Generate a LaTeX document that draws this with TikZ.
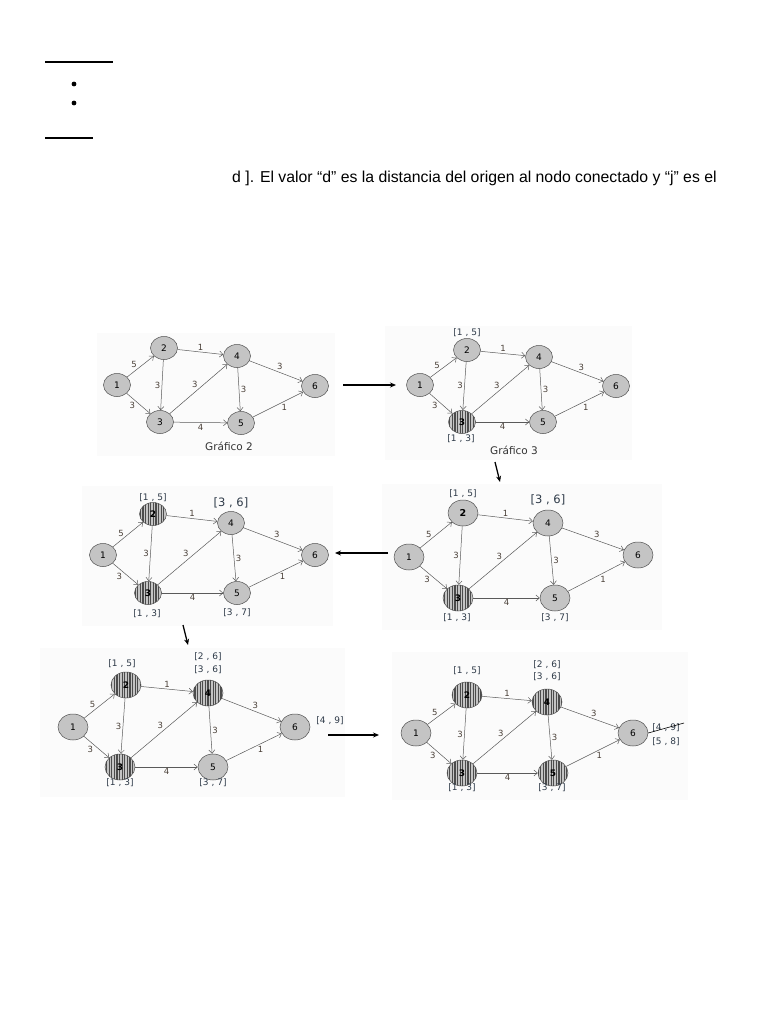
\documentclass[tikz,border=0pt]{standalone}
\usepackage{fontspec}
\setmainfont{Liberation Sans}
\newfontfamily\grafofont{DejaVu Sans}
\usetikzlibrary{arrows.meta,positioning,shapes.geometric,patterns.meta}
\definecolor{nodoFill}{HTML}{C4C4C4}
\definecolor{nodoLine}{HTML}{4E4E4E}
\definecolor{aristaGris}{HTML}{5A5A5A}
\definecolor{pesoTxt}{HTML}{4A4038}
\definecolor{etqTxt}{HTML}{2E3A48}
\definecolor{panelBg}{HTML}{FBFBFB}

% las ocho aristas del grafo, con su peso
\newcommand{\aristas}[1]{%
  \draw[arista] (#1-1) -- node[peso, pos=0.35, above left=0pt and -2pt]{5} (#1-2);
  \draw[arista] (#1-1) -- node[peso, pos=0.4, below left=-1pt]{3} (#1-3);
  \draw[arista] (#1-2) -- node[peso, left]{3} (#1-3);
  \draw[arista] (#1-2) -- node[peso, above]{1} (#1-4);
  \draw[arista] (#1-3) -- node[peso, pos=0.5, above left=-1pt]{3} (#1-4);
  \draw[arista] (#1-4) -- node[peso, right]{3} (#1-5);
  \draw[arista] (#1-4) -- node[peso, pos=0.5, above right=-1pt]{3} (#1-6);
  \draw[arista] (#1-3) -- node[peso, below]{4} (#1-5);
  \draw[arista] (#1-5) -- node[peso, pos=0.55, below right=-1pt]{1} (#1-6);
}

\begin{document}
\begin{tikzpicture}[x=1pt, y=-1pt,
    nodo/.style={ellipse, draw=nodoLine, fill=nodoFill, line width=0.5pt,
                 minimum width=27pt, minimum height=23pt, inner sep=0pt,
                 font=\grafofont\fontsize{9}{10}\selectfont},
    visto/.style={nodo, preaction={fill=nodoFill},
                  pattern={Lines[angle=90, distance=2.6pt, line width=1.1pt]},
                  pattern color=black!70,
                  font=\grafofont\bfseries\fontsize{9}{10}\selectfont},
    grande/.style={minimum width=30pt, minimum height=26pt},
    arista/.style={draw=aristaGris, line width=0.5pt,
                   -{Straight Barb[length=3.5pt, width=6pt]}},
    peso/.style={font=\grafofont\fontsize{8.5}{9}\selectfont, text=pesoTxt, inner sep=1.5pt},
    etq/.style={font=\grafofont\fontsize{9}{10}\selectfont, text=etqTxt, inner sep=0pt},
    etqg/.style={etq, font=\grafofont\fontsize{11.5}{12}\selectfont},
    titulo/.style={font=\grafofont\fontsize{10.5}{12}\selectfont, text=black!80},
    paso/.style={-{Stealth[length=6pt, width=5pt]}, line width=1.3pt, black},
    panel/.style={fill=panelBg, draw=none}]

  \useasboundingbox[fill=white] (0,0) rectangle (768,1024);

  % encabezado
  \draw[line width=1.4pt] (45,62) -- (113,62);
  \fill (74,84) circle (2.4);
  \fill (74,103) circle (2.4);
  \draw[line width=1.2pt] (45,138) -- (93,138);
  \node[anchor=west, inner sep=0pt, font=\fontsize{15.8}{18}\selectfont] (texto) at (232,178)
    {d ]. El valor “d” es la distancia del origen al nodo conectado y “j” es el};

  % fondos
  \fill[panel] (97,333) rectangle (335,456);
  \fill[panel] (385,326) rectangle (632,460);
  \fill[panel] (82,486) rectangle (333,626);
  \fill[panel] (382,484) rectangle (662,630);
  \fill[panel] (40,648) rectangle (345,797);
  \fill[panel] (392,652) rectangle (688,800);

  % Grafico 2
  \node[nodo] (a-1) at (117,385) {1};
  \node[nodo] (a-2) at (164,348) {2};
  \node[nodo] (a-3) at (160,422) {3};
  \node[nodo] (a-4) at (237,356) {4};
  \node[nodo] (a-5) at (241,423) {5};
  \node[nodo] (a-6) at (315,386) {6};
  \aristas{a}
  \node[titulo] (a-tit) at (229,446) {Gráfico 2};

  % Grafico 3
  \node[nodo] (b-1) at (420,385) {1};
  \node[nodo] (b-2) at (467,350) {2};
  \node[visto] (b-3) at (462,422) {3};
  \node[nodo] (b-4) at (539,357) {4};
  \node[nodo] (b-5) at (543,422) {5};
  \node[nodo] (b-6) at (616,386) {6};
  \aristas{b}
  \node[etq] (b-e2) at (467,333) {[1 , 5]};
  \node[etq] (b-e3) at (461,439) {[1 , 3]};
  \node[titulo] (b-tit) at (514,450) {Gráfico 3};

  % paso 3
  \node[nodo, grande] (c-1) at (409,557) {1};
  \node[nodo, grande, font=\grafofont\bfseries\fontsize{9.5}{10}\selectfont] (c-2) at (463,513) {2};
  \node[visto, grande] (c-3) at (458,598) {3};
  \node[nodo, grande] (c-4) at (548,523) {4};
  \node[nodo, grande] (c-5) at (555,598) {5};
  \node[nodo, grande] (c-6) at (638,555) {6};
  \aristas{c}
  \node[etq] (c-e2) at (463,494) {[1 , 5]};
  \node[etqg] (c-e4) at (548,500) {[3 , 6]};
  \node[etq] (c-e3) at (457,618) {[1 , 3]};
  \node[etq] (c-e5) at (555,618) {[3 , 7]};

  % paso 4
  \node[nodo] (d-1) at (103,555) {1};
  \node[visto] (d-2) at (153,514) {2};
  \node[visto] (d-3) at (148,593) {3};
  \node[nodo] (d-4) at (231,523) {4};
  \node[nodo] (d-5) at (237,593) {5};
  \node[nodo] (d-6) at (315,555) {6};
  \aristas{d}
  \node[etq] (d-e2) at (153,498) {[1 , 5]};
  \node[etqg] (d-e4) at (231,503) {[3 , 6]};
  \node[etq] (d-e3) at (147,614) {[1 , 3]};
  \node[etq] (d-e5) at (237,613) {[3 , 7]};

  % paso 5
  \node[nodo, grande] (e-1) at (73,727) {1};
  \node[visto, grande] (e-2) at (126,685) {2};
  \node[visto, grande] (e-3) at (120,767) {3};
  \node[visto, grande] (e-4) at (208,693) {4};
  \node[nodo, grande] (e-5) at (213,767) {5};
  \node[nodo, grande] (e-6) at (295,727) {6};
  \aristas{e}
  \node[etq] (e-e2) at (122,664) {[1 , 5]};
  \node[etq] (e-e4a) at (208,657) {[2 , 6]};
  \node[etq] (e-e4b) at (208,670) {[3 , 6]};
  \node[etq] (e-e6) at (330,721) {[4 , 9]};
  \node[etq] (e-e3) at (120,783) {[1 , 3]};
  \node[etq] (e-e5) at (213,783) {[3 , 7]};

  % paso 6
  \node[nodo, grande] (f-1) at (416,733) {1};
  \node[visto, grande] (f-2) at (467,695) {2};
  \node[visto, grande] (f-3) at (462,773) {3};
  \node[visto, grande] (f-4) at (547,702) {4};
  \node[visto, grande] (f-5) at (553,773) {5};
  \node[nodo, grande] (f-6) at (633,733) {6};
  \aristas{f}
  \node[etq] (f-e2) at (467,671) {[1 , 5]};
  \node[etq] (f-e4a) at (547,665) {[2 , 6]};
  \node[etq] (f-e4b) at (547,677) {[3 , 6]};
  \node[etq] (f-e6a) at (666,728) {[4 , 9]};
  \node[etq] (f-e6b) at (666,742) {[5 , 8]};
  \node[etq] (f-e3) at (462,788) {[1 , 3]};
  \node[etq] (f-e5) at (552,788) {[3 , 7]};
  \coordinate (tacha) at (684,723);
  \draw[line width=0.6pt] (f-6.east) -- (tacha);

  % pasos entre graficos
  \coordinate (p1a) at (343,385);  \coordinate (p1b) at (396,385);
  \coordinate (p2a) at (495,462);  \coordinate (p2b) at (500,482);
  \coordinate (p3a) at (388,553);  \coordinate (p3b) at (335,553);
  \coordinate (p4a) at (183,625);  \coordinate (p4b) at (188,645);
  \coordinate (p5a) at (328,735);  \coordinate (p5b) at (379,735);
  \draw[paso] (p1a) -- (p1b);
  \draw[paso] (p2a) -- (p2b);
  \draw[paso] (p3a) -- (p3b);
  \draw[paso] (p4a) -- (p4b);
  \draw[paso] (p5a) -- (p5b);
\end{tikzpicture}
\end{document}
